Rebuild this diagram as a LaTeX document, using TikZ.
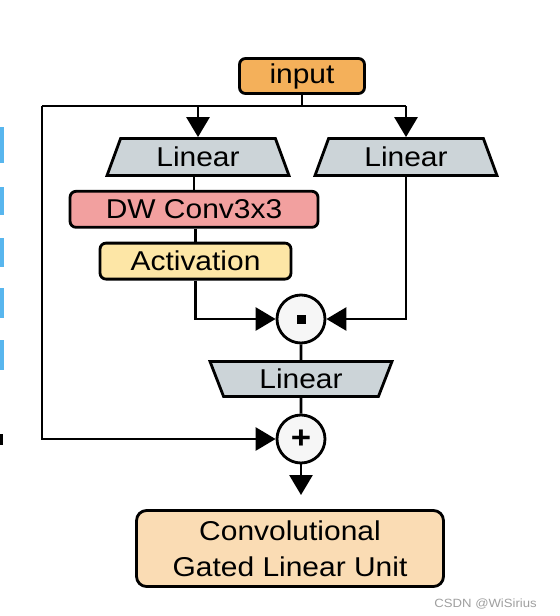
\documentclass[tikz,border=0pt]{standalone}
\usepackage{fontspec}
\setmainfont{Liberation Sans}[FakeStretch=1.1]
\usepackage{tikz}
\usetikzlibrary{shapes,shapes.geometric,arrows.meta}
\usetikzlibrary{positioning}
\definecolor{inputorange}{HTML}{F4B05A}
\definecolor{lingray}{HTML}{CCD4D8}
\definecolor{convred}{HTML}{F2A09F}
\definecolor{actyellow}{HTML}{FDE6A6}
\definecolor{outpeach}{HTML}{FADCB4}
\definecolor{opfill}{HTML}{F6F6F6}
\definecolor{barblue}{HTML}{58B6EE}
\tikzstyle{block} = [rectangle, draw, rounded corners=0.12cm, line width=1.6pt, inner sep=1pt, minimum height=0.72cm]
\tikzstyle{linear} = [trapezium, draw, fill=lingray, line width=1.6pt, trapezium angle=60, trapezium stretches body, inner sep=1pt, minimum width=3.64cm, minimum height=0.74cm]
\tikzstyle{op} = [circle, draw, fill=opfill, line width=1.6pt, inner sep=0pt, minimum size=0.96cm]
\tikzstyle{wire} = [line width=1.6pt]
\tikzstyle{arrow} = [line width=1.6pt, -{Triangle[width=0.46cm, length=0.4cm]}]

\begin{document}
\begin{tikzpicture}[x=0.02cm, y=-0.02cm, every node/.style={font=\fontsize{15.5}{20.5}\selectfont}, every text node part/.style={align=center}]
   \useasboundingbox (0,0) rectangle (560,616);
   % Place nodes
   \node [block, fill=inputorange, minimum width=2.5cm, minimum height=0.7cm] (input) at (302,76) {input};
   \node [linear] (lin1) at (198,157) {Linear};
   \node [linear] (lin2) at (406,157) {Linear};
   \node [block, fill=convred, minimum width=4.96cm, below = 0.26cm of lin1, xshift=-0.08cm] (conv) {DW Conv3x3};
   \node [block, fill=actyellow, minimum width=3.82cm, below = 0.26cm of conv, xshift=0.03cm] (act) {Activation};
   \node [op] (mul) at (301,319) {\rule{0.18cm}{0.18cm}};
   \node [linear, shape border rotate=180, minimum height=0.7cm] (lin3) at (301,379) {Linear};
   \node [op, font=\fontsize{18}{18}\selectfont\bfseries] (add) at (301,439) {+};
   \node [block, fill=outpeach, rounded corners=0.2cm, minimum width=6.14cm, minimum height=1.52cm] (out) at (290,548.5) {Convolutional\\Gated Linear Unit};
   \node [anchor=base east, text=gray!75, font=\fontsize{6.8}{8}\selectfont] (mark) at (543,607) {CSDN @WiSirius};
   \coordinate (corner) at (42,106);
   \coordinate (tip) at (301,495);

   % Connectors
   \draw [wire] (input.south) -- (input.south |- corner);
   \draw [wire] (corner) -- (lin2.north |- corner);
   \draw [arrow] (lin1.north |- corner) -- (lin1.north);
   \draw [arrow] (lin2.north |- corner) -- (lin2.north);
   \draw [arrow] (corner) |- (add.west);
   \draw [wire] (lin1.south -| conv.north) -- (conv.north);
   \draw [wire] (conv.south -| act.north) -- (act.north);
   \draw [arrow] (act.south) |- (mul.west);
   \draw [arrow] (lin2.south) |- (mul.east);
   \draw [wire] (mul) -- (lin3);
   \draw [wire] (lin3) -- (add);
   \draw [arrow] (add) -- (tip);

   % cut-off bars at the left edge
   \foreach \ya/\yb in {127/163, 187/215, 238/267, 288/318, 340/370}
      \fill [barblue] (0,\ya) rectangle (4,\yb);
   \fill (0,434) rectangle (3,445);
\end{tikzpicture}
\end{document}
